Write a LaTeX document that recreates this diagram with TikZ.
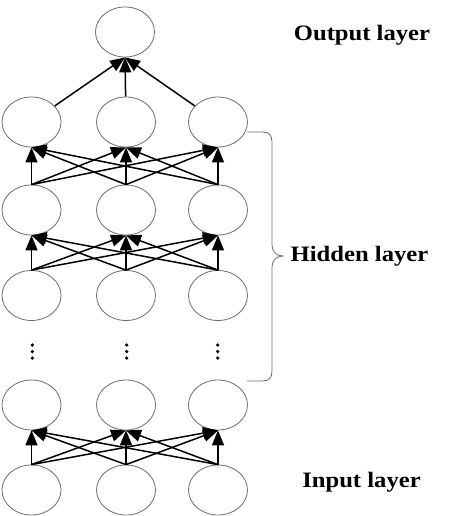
\documentclass[tikz,border=0pt]{standalone}
\usepackage{fontspec}
\newfontfamily\labfont{Liberation Serif}[FakeStretch=1.12]
\usetikzlibrary{arrows.meta,shapes.geometric}
\definecolor{ovalgray}{RGB}{110,110,110}
\begin{document}
\begin{tikzpicture}[x=1pt,y=-1pt,
  neuron/.style={ellipse,draw=ovalgray,line width=0.8pt,minimum width=59pt,minimum height=50pt,inner sep=0pt},
  arr/.style={line width=1.5pt,-{Triangle[length=15pt,width=12pt]}},
  lab/.style={font=\labfont\bfseries\fontsize{22}{26}\selectfont,anchor=base,inner sep=0pt},
  brace/.style={draw=ovalgray,line width=0.8pt},
  dot/.style={fill=black}]
\useasboundingbox (0,0) rectangle (474,516);
% nodes
\node[neuron] (o) at (125,32) {};
\foreach \r/\y in {1/122,2/210,3/295.5,4/405,5/490}{
  \node[neuron] (n\r1) at (31.5,\y) {};
  \node[neuron] (n\r2) at (126,\y) {};
  \node[neuron] (n\r3) at (218,\y) {};
}
% output arrows
\draw[arr] (n11) -- (o.south);
\draw[arr] (n12) -- (o.south);
\draw[arr] (n13) -- (o.south);
% full connections
\foreach \lo/\up in {2/1,3/2,5/4}{
  \foreach \a in {1,2,3}{
    \foreach \b in {1,2,3}{
      \draw[arr] (n\lo\a.north) -- (n\up\b.south);
    }
  }
}
% vertical dots
\foreach \x in {32.3,126.7,217.7}{
  \foreach \y in {345,351.5,358}{
    \fill[dot] (\x,\y) circle (1.8);
  }
}
% brace
\draw[brace] (247,132) -- (262,132) .. controls (269,132) and (272,135) .. (272,142)
  -- (272,245) .. controls (272,251) and (276,256) .. (283,256)
  .. controls (276,256) and (272,261) .. (272,267)
  -- (272,371) .. controls (272,378) and (269,381) .. (262,381) -- (247,381);
% labels
\node[lab] (lo) at (362,41) {Output layer};
\node[lab] (lh) at (359.5,261) {Hidden layer};
\node[lab] (li) at (361.5,487) {Input layer};
\end{tikzpicture}
\end{document}
